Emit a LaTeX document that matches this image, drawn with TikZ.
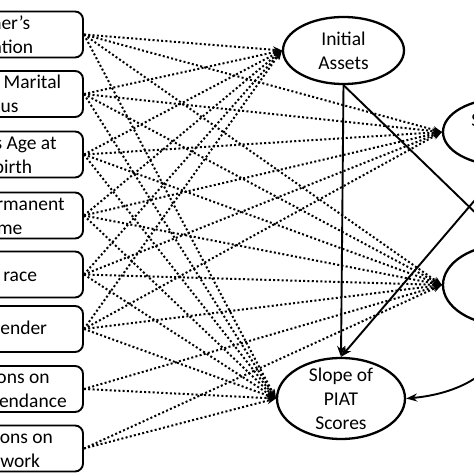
\documentclass[tikz,border=0pt]{standalone}
\usepackage{fontspec}
\setmainfont{Carlito}
\usetikzlibrary{arrows.meta,shapes.geometric}
\begin{document}
\begin{tikzpicture}[x=1pt,y=1pt,
  box/.style={draw, line width=1.9pt, rounded corners=8pt, minimum width=178pt, minimum height=46pt, inner sep=0pt},
  lbl/.style={align=center, font=\fontsize{19.5}{24}\selectfont, inner sep=0pt},
  latent/.style={ellipse, draw, line width=2.3pt, fill=white, inner sep=0pt},
  dotarrow/.style={line width=2pt, dash pattern=on 2pt off 2.3pt, -{Stealth[length=9pt,width=7pt]}},
  solidarrow/.style={line width=1.9pt, -{Stealth[length=11pt,width=8pt]}},
]
\useasboundingbox (0,0) rectangle (474,474);
\clip (0,0) rectangle (474,474);
% left boxes
\node[box] (b1) at (-6,439.5) {};
\node[box] (b2) at (-6,380) {};
\node[box] (b3) at (-6,319.5) {};
\node[box] (b4) at (-6,258.5) {};
\node[box] (b5) at (-6,199.5) {};
\node[box] (b6) at (-6,145) {};
\node[box] (b7) at (-6,85) {};
\node[box] (b8) at (-6,25.5) {};
\node[lbl] (t1) at (-6,439.5) {Mother’s\\Education};
\node[lbl] (t2) at (-6,380) {Mother’s Marital\\Status};
\node[lbl] (t3) at (-6.8,319.5) {Mother’s Age at\\Childbirth};
\node[lbl] (t4) at (-7,258.5) {Family Permanent\\Income};
\node[lbl] (t5) at (-7.6,199.5) {Child’s race};
\node[lbl] (t6) at (-8.6,145) {Child’s gender};
\node[lbl] (t7) at (-7,85) {Aspirations on\\School Attendance};
\node[lbl] (t8) at (-3.6,25.5) {Aspirations on\\Homework};
% latent ellipses
\node[latent, minimum width=121pt, minimum height=67pt] (ia) at (343.5,423.5) {};
\node[latent, minimum width=121pt, minimum height=67pt] (ur) at (503.5,342) {};
\node[latent, minimum width=128pt, minimum height=81pt] (lr) at (507,189) {};
\node[latent, minimum width=128pt, minimum height=81pt] (sp) at (341,75.5) {};
\node[lbl] (tia) at (ia.center) {Initial\\Assets};
\node[lbl] (tur) at (ur.center) {Slope of\\Assets};
\node[lbl] (tsp) at (sp.center) {Slope of\\PIAT\\Scores};
% dotted paths
\foreach \b in {b1,b2,b3,b4,b5,b6}{
  \draw[dotarrow] (\b.east) -- (ia.west);
  \draw[dotarrow] (\b.east) -- (ur.west);
}
\foreach \b in {b1,b2,b3,b4,b5,b6,b7,b8}{
  \draw[dotarrow] (\b.east) -- (lr.west);
  \draw[dotarrow] (\b.east) -- (sp.west);
}
% solid paths
\draw[solidarrow] (ia.south) -- (sp.north);
\draw[solidarrow] (ia.south) -- (lr.north);
\draw[solidarrow] (ur.south) -- (sp.north);
\draw[solidarrow] (lr.south) to[out=-95,in=5] (sp.east);
\end{tikzpicture}
\end{document}
